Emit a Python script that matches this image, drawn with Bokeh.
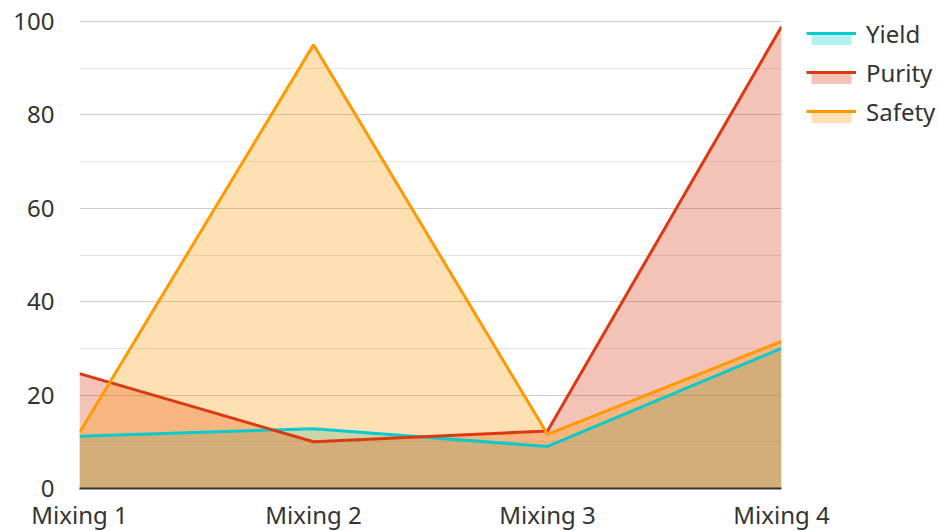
from bokeh.plotting import figure
from bokeh.models import Range1d, FixedTicker, Legend, LegendItem, BoxAnnotation
from bokeh.embed import file_html
from bokeh.resources import INLINE

categories = ["Mixing 1", "Mixing 2", "Mixing 3", "Mixing 4"]
yield_vals = [11.2, 12.8, 9.0, 30.0]
purity_vals = [24.6, 10.0, 12.3, 98.9]
safety_vals = [12.0, 95.0, 11.6, 31.5]
y_ticks = [0, 20, 40, 60, 80, 100]
y_minor = [10, 30, 50, 70, 90]

series = [
    ("Yield", yield_vals, "#0CCACC"),
    ("Purity", purity_vals, "#DC3912"),
    ("Safety", safety_vals, "#FF9900"),
]

x = list(range(len(categories)))
FONT = "Noto Sans"
FS = "24px"
H = 531

PW = 702            # width of the plotting area
PH = 467            # height of the plotting area (0..100)
LW = 157            # room on the right for the legend
TOP_EXTRA = 10      # room above the 100 line for the legend
x_last = len(categories) - 1
x_end = x_last * (PW + LW) / PW
y_end = 100 * (PH + TOP_EXTRA) / PH

p = figure(frame_width=PW + LW, frame_height=PH + TOP_EXTRA, output_backend="svg",
           toolbar_location=None, min_border_left=79, min_border_top=21 - TOP_EXTRA,
           min_border_bottom=H - 21 - PH, min_border_right=0,
           x_range=Range1d(0, x_end), y_range=Range1d(0, y_end))
p.outline_line_color = None

areas = [p.varea(x=x, y1=0, y2=vals, fill_color=col, fill_alpha=0.3)
         for name, vals, col in series]
lines = [p.line(x=x, y=vals, line_color=col, line_width=3)
         for name, vals, col in series]

p.xaxis.ticker = FixedTicker(ticks=x)
p.xaxis.major_label_overrides = {i: c for i, c in enumerate(categories)}
p.xaxis.bounds = (0, x_last)
p.yaxis.ticker = FixedTicker(ticks=y_ticks, minor_ticks=y_minor)

for ax in (p.xaxis, p.yaxis):
    ax.major_tick_line_color = None
    ax.minor_tick_line_color = None
    ax.major_label_text_font = FONT
    ax.major_label_text_font_size = FS
    ax.major_label_text_color = "#333333"
p.yaxis.axis_line_color = None
p.yaxis.major_label_standoff = 19
p.xaxis.axis_line_color = "#333333"
p.xaxis.axis_line_width = 2
p.xaxis.major_label_standoff = 3

p.xgrid.grid_line_color = None
p.ygrid.grid_line_color = "#cccccc"
p.ygrid.minor_grid_line_color = "#e6e6e6"

# blank out the grid to the right of the last category
p.add_layout(BoxAnnotation(left=x_last, fill_color="white", fill_alpha=1,
                           line_color=None, level="glyph"))


def make_legend(renderers, labels, font_size, loc):
    items = [LegendItem(label=labels[i], renderers=[renderers[i]])
             for i in range(len(series))]
    lg = Legend(items=items, location=loc)
    lg.border_line_color = None
    lg.background_fill_alpha = 0
    lg.label_text_font = FONT
    lg.label_text_font_size = font_size
    lg.label_text_color = "#333333"
    lg.glyph_width = 50
    lg.glyph_height = 14
    lg.label_height = 34
    lg.spacing = 5
    lg.label_standoff = 10
    lg.margin = 0
    lg.padding = 0
    return lg


# filled boxes (no text), then the lines with labels, a little higher
p.add_layout(make_legend(areas, [" "] * len(series), "1px", (727, 354)))
p.add_layout(make_legend(lines, [s[0] for s in series], FS, (727, 360)))

open("out.html", "w").write(file_html(p, INLINE))
